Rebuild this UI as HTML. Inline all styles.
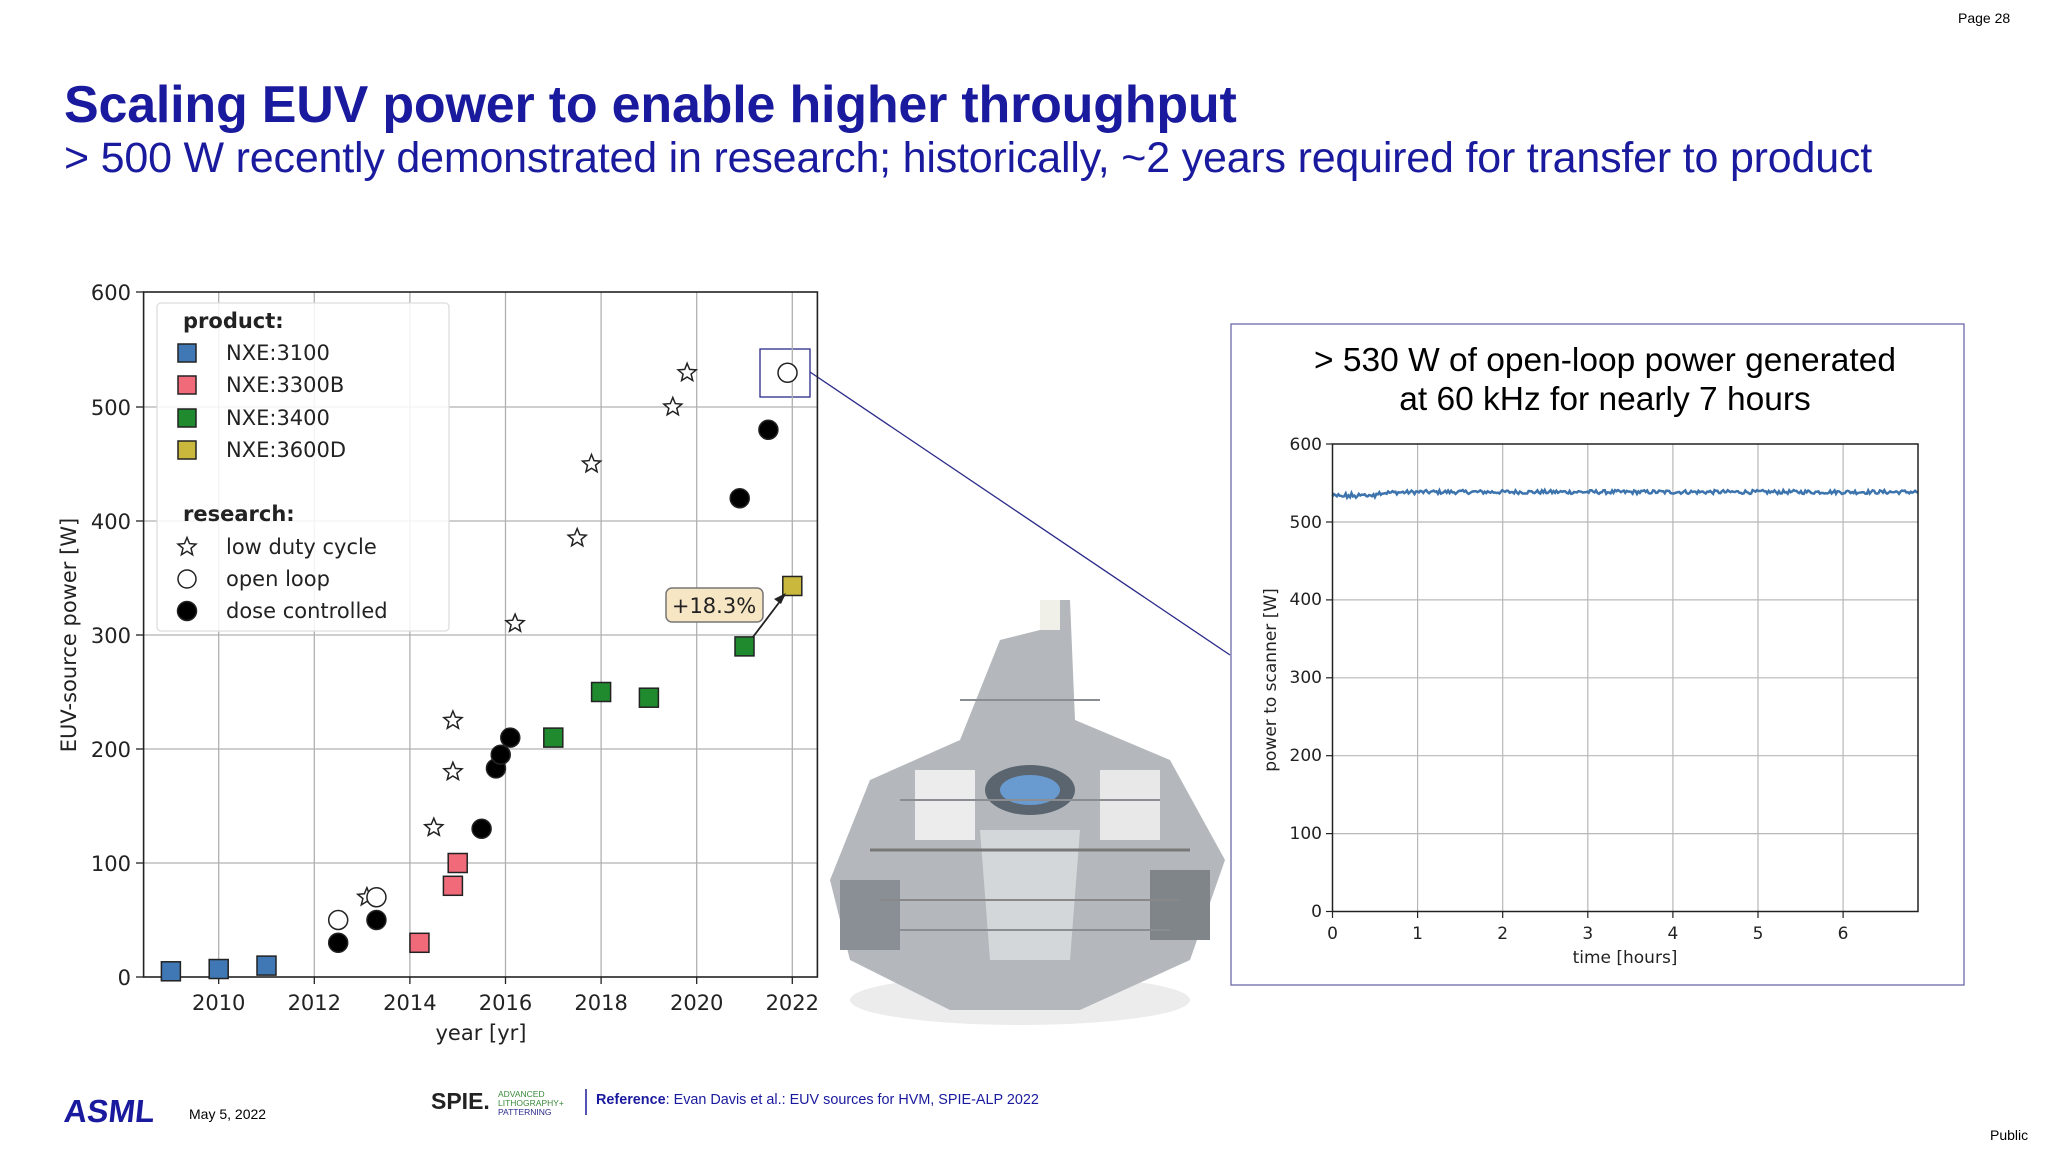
<!DOCTYPE html>
<html><head><meta charset="utf-8"><style>
html,body{margin:0;padding:0;background:#fff;}
body{width:2048px;height:1152px;position:relative;overflow:hidden;font-family:"Liberation Sans",Arial,sans-serif;}
.t{position:absolute;white-space:nowrap;}
</style></head><body>
<div class="t" style="left:1958px;top:10px;font-size:14px;color:#000;">Page 28</div>
<div class="t" style="left:64px;top:75px;font-size:52px;font-weight:bold;color:#1a1a9e;letter-spacing:-0.2px;">Scaling EUV power to enable higher throughput</div>
<div class="t" style="left:64px;top:134px;font-size:43px;color:#1a1a9e;letter-spacing:-0.2px;">&gt; 500 W recently demonstrated in research; historically, ~2 years required for transfer to product</div>

<svg width="2048" height="1152" style="position:absolute;left:0;top:0" font-family="DejaVu Sans, sans-serif">
<!-- machine image approximation -->
<ellipse cx="1020" cy="1000" rx="170" ry="25" fill="#ececec"/>
<path d="M830 880 L870 780 L960 740 L1000 640 L1040 630 L1040 600 L1070 600 L1075 720 L1170 760 L1225 860 L1190 960 L1080 1010 L950 1010 L850 960 Z" fill="#b4b8bc"/>
<rect x="915" y="770" width="60" height="70" fill="#ececec"/>
<rect x="1100" y="770" width="60" height="70" fill="#e8e8e8"/>
<ellipse cx="1030" cy="790" rx="45" ry="25" fill="#5a6570"/>
<ellipse cx="1030" cy="790" rx="30" ry="15" fill="#6a9bd0"/>
<path d="M980 830 L1080 830 L1070 960 L990 960 Z" fill="#d4d7da"/>
<rect x="1040" y="600" width="20" height="30" fill="#f0f0e8"/>
<rect x="840" y="880" width="60" height="70" fill="#8a8f95"/>
<rect x="1150" y="870" width="60" height="70" fill="#80858a"/>
<path d="M870 850 L1190 850" stroke="#777" stroke-width="3"/>
<path d="M880 900 L1180 900" stroke="#888" stroke-width="2"/>
<path d="M900 800 L1160 800 M890 930 L1170 930 M960 700 L1100 700" stroke="#8a8e92" stroke-width="2"/>

<!-- connector -->
<rect x="760" y="349" width="50" height="48" fill="none" stroke="#2a2a8a" stroke-width="1.3"/>
<line x1="810" y1="372" x2="1230" y2="655" stroke="#2a2a8a" stroke-width="1.3"/>

<!-- left chart -->
<g stroke="#b0b0b0" stroke-width="1.3">
<line x1="218.7" y1="292" x2="218.7" y2="977"/><line x1="314.3" y1="292" x2="314.3" y2="977"/>
<line x1="409.9" y1="292" x2="409.9" y2="977"/><line x1="505.5" y1="292" x2="505.5" y2="977"/>
<line x1="601.1" y1="292" x2="601.1" y2="977"/><line x1="696.7" y1="292" x2="696.7" y2="977"/>
<line x1="792.3" y1="292" x2="792.3" y2="977"/>
<line x1="143.6" y1="863" x2="817.4" y2="863"/><line x1="143.6" y1="749" x2="817.4" y2="749"/>
<line x1="143.6" y1="635" x2="817.4" y2="635"/><line x1="143.6" y1="521" x2="817.4" y2="521"/>
<line x1="143.6" y1="407" x2="817.4" y2="407"/>
</g>
<rect x="143.6" y="292" width="673.8" height="685" fill="none" stroke="#222" stroke-width="1.6"/>
<g stroke="#222" stroke-width="1.3">
<line x1="136" y1="977" x2="143.6" y2="977"/><line x1="136" y1="863" x2="143.6" y2="863"/><line x1="136" y1="749" x2="143.6" y2="749"/><line x1="136" y1="635" x2="143.6" y2="635"/><line x1="136" y1="521" x2="143.6" y2="521"/><line x1="136" y1="407" x2="143.6" y2="407"/><line x1="136" y1="292" x2="143.6" y2="292"/>
<line x1="218.7" y1="977" x2="218.7" y2="984"/><line x1="314.3" y1="977" x2="314.3" y2="984"/><line x1="409.9" y1="977" x2="409.9" y2="984"/><line x1="505.5" y1="977" x2="505.5" y2="984"/><line x1="601.1" y1="977" x2="601.1" y2="984"/><line x1="696.7" y1="977" x2="696.7" y2="984"/><line x1="792.3" y1="977" x2="792.3" y2="984"/>
</g>
<g font-size="21" fill="#222" text-anchor="end">
<text x="131" y="985">0</text><text x="131" y="871">100</text><text x="131" y="757">200</text><text x="131" y="643">300</text><text x="131" y="529">400</text><text x="131" y="415">500</text><text x="131" y="300">600</text>
</g>
<g font-size="21" fill="#222" text-anchor="middle">
<text x="218.7" y="1010">2010</text><text x="314.3" y="1010">2012</text><text x="409.9" y="1010">2014</text><text x="505.5" y="1010">2016</text><text x="601.1" y="1010">2018</text><text x="696.7" y="1010">2020</text><text x="792.3" y="1010">2022</text>
<text x="481" y="1040">year [yr]</text>
<text transform="translate(76,635) rotate(-90)">EUV-source power [W]</text>
</g>
<!-- legend -->
<rect x="157" y="303" width="292" height="328" rx="4" fill="#fff" fill-opacity="0.85" stroke="#ddd" stroke-width="1.3"/>
<g font-size="21" fill="#222">
<text x="183" y="328" font-weight="bold">product:</text>
<text x="226" y="360">NXE:3100</text><text x="226" y="392">NXE:3300B</text><text x="226" y="425">NXE:3400</text><text x="226" y="457">NXE:3600D</text>
<text x="183" y="521" font-weight="bold">research:</text>
<text x="226" y="554">low duty cycle</text><text x="226" y="586">open loop</text><text x="226" y="618">dose controlled</text>
</g>
<g stroke="#222" stroke-width="1.5">
<rect x="178" y="344" width="18" height="18" fill="#3f78b4"/>
<rect x="178" y="376" width="18" height="18" fill="#f06a7a"/>
<rect x="178" y="409" width="18" height="18" fill="#1f8a2e"/>
<rect x="178" y="441" width="18" height="18" fill="#c9b83c"/>
<g id="lstar"></g>
<circle cx="187" cy="579" r="9" fill="#fff"/>
<circle cx="187" cy="611" r="9.5" fill="#000"/>
</g>
<g id="pts" stroke="#222" stroke-width="1.5"></g>
<!-- annotation -->
<line x1="753" y1="637" x2="784" y2="596" stroke="#222" stroke-width="1.8"/>
<path d="M786 593 L774 599 L781 604 Z" fill="#222"/>
<rect x="666" y="588" width="97" height="34" rx="6" fill="#f7e6c4" stroke="#777" stroke-width="1.5"/>
<text x="714" y="613" font-size="21" text-anchor="middle" fill="#222">+18.3%</text>

<!-- right panel -->
<rect x="1231" y="324" width="733" height="661" fill="#fff" stroke="#6a6aa8" stroke-width="1.3"/>
<g font-family="Liberation Sans, Arial, sans-serif" font-size="33.5" fill="#000" text-anchor="middle">
<text x="1605" y="371">&gt; 530 W of open-loop power generated</text>
<text x="1605" y="410">at 60 kHz for nearly 7 hours</text>
</g>
<g stroke="#b8b8b8" stroke-width="1.2">
<line x1="1417.6" y1="444" x2="1417.6" y2="911.5"/><line x1="1502.7" y1="444" x2="1502.7" y2="911.5"/><line x1="1587.8" y1="444" x2="1587.8" y2="911.5"/><line x1="1672.9" y1="444" x2="1672.9" y2="911.5"/><line x1="1758" y1="444" x2="1758" y2="911.5"/><line x1="1843.1" y1="444" x2="1843.1" y2="911.5"/>
<line x1="1332.5" y1="833.6" x2="1918" y2="833.6"/><line x1="1332.5" y1="755.7" x2="1918" y2="755.7"/><line x1="1332.5" y1="677.8" x2="1918" y2="677.8"/><line x1="1332.5" y1="599.9" x2="1918" y2="599.9"/><line x1="1332.5" y1="522" x2="1918" y2="522"/>
</g>
<polyline id="pl" fill="none" stroke="#3d74ad" stroke-width="2.5" points=""/>
<rect x="1332.5" y="444" width="585.5" height="467.5" fill="none" stroke="#222" stroke-width="1.5"/>
<g stroke="#222" stroke-width="1.2">
<line x1="1326" y1="911.5" x2="1332.5" y2="911.5"/><line x1="1326" y1="833.6" x2="1332.5" y2="833.6"/><line x1="1326" y1="755.7" x2="1332.5" y2="755.7"/><line x1="1326" y1="677.8" x2="1332.5" y2="677.8"/><line x1="1326" y1="599.9" x2="1332.5" y2="599.9"/><line x1="1326" y1="522" x2="1332.5" y2="522"/><line x1="1326" y1="444" x2="1332.5" y2="444"/>
<line x1="1332.5" y1="911.5" x2="1332.5" y2="918"/><line x1="1417.6" y1="911.5" x2="1417.6" y2="918"/><line x1="1502.7" y1="911.5" x2="1502.7" y2="918"/><line x1="1587.8" y1="911.5" x2="1587.8" y2="918"/><line x1="1672.9" y1="911.5" x2="1672.9" y2="918"/><line x1="1758" y1="911.5" x2="1758" y2="918"/><line x1="1843.1" y1="911.5" x2="1843.1" y2="918"/>
</g>
<g font-size="17" fill="#222" text-anchor="end">
<text x="1322" y="917">0</text><text x="1322" y="839">100</text><text x="1322" y="761">200</text><text x="1322" y="683">300</text><text x="1322" y="605">400</text><text x="1322" y="528">500</text><text x="1322" y="450">600</text>
</g>
<g font-size="17" fill="#222" text-anchor="middle">
<text x="1332.5" y="939">0</text><text x="1417.6" y="939">1</text><text x="1502.7" y="939">2</text><text x="1587.8" y="939">3</text><text x="1672.9" y="939">4</text><text x="1758" y="939">5</text><text x="1843.1" y="939">6</text>
<text x="1625" y="963">time [hours]</text>
<text transform="translate(1276,680) rotate(-90)">power to scanner [W]</text>
</g>

<!-- footer -->
<text x="64" y="1122" font-family="Liberation Sans, Arial, sans-serif" font-size="32" font-weight="bold" fill="#1a1a9e" transform="skewX(-6) translate(117,0)">ASML</text>
<text x="189" y="1119" font-family="Liberation Sans, Arial, sans-serif" font-size="14" fill="#000">May 5, 2022</text>
<text x="431" y="1109" font-family="Liberation Sans, Arial, sans-serif" font-size="23" font-weight="bold" fill="#222">SPIE.</text>
<g font-family="Liberation Sans, Arial, sans-serif" font-size="8.5" fill="#3a8a3a"><text x="498" y="1097">ADVANCED</text><text x="498" y="1106">LITHOGRAPHY+</text><text x="498" y="1115" fill="#2a2a8a">PATTERNING</text></g>
<line x1="586" y1="1089" x2="586" y2="1115" stroke="#1a1a9e" stroke-width="1.5"/>
<text x="596" y="1104" font-family="Liberation Sans, Arial, sans-serif" font-size="14.4" fill="#1a1a9e"><tspan font-weight="bold">Reference</tspan>: Evan Davis et al.: EUV sources for HVM, SPIE-ALP 2022</text>
<text x="1990" y="1140" font-family="Liberation Sans, Arial, sans-serif" font-size="14" fill="#000">Public</text>
</svg>
<script>
(function(){
var X=function(y){return 218.7+(y-2010)*47.8;},Y=function(v){return 977-v*1.14;};
var g=document.getElementById('pts'),h='';
function sq(y,v,c){h+='<rect x="'+(X(y)-9.5)+'" y="'+(Y(v)-9.5)+'" width="19" height="19" fill="'+c+'"/>';}
function ci(y,v,f){h+='<circle cx="'+X(y)+'" cy="'+Y(v)+'" r="9.5" fill="'+f+'"/>';}
function starAt(cx,cy){var p=[];for(var i=0;i<10;i++){var r=i%2?4.2:9.5,a=-Math.PI/2+i*Math.PI/5;p.push((cx+r*Math.cos(a)).toFixed(1)+','+(cy+r*Math.sin(a)).toFixed(1));}return '<polygon points="'+p.join(' ')+'" fill="#fff"/>';}
function st(y,v){h+=starAt(X(y),Y(v));}
sq(2009,5,'#3f78b4');sq(2010,7,'#3f78b4');sq(2011,10,'#3f78b4');
sq(2014.2,30,'#f06a7a');sq(2014.9,80,'#f06a7a');sq(2015,100,'#f06a7a');
sq(2017,210,'#1f8a2e');sq(2018,250,'#1f8a2e');sq(2019,245,'#1f8a2e');sq(2021,290,'#1f8a2e');
sq(2022,343,'#c9b83c');
[[2013.1,70],[2014.5,131],[2014.9,180],[2014.9,225],[2016.2,310],[2017.5,385],[2017.8,450],[2019.5,500],[2019.8,530]].forEach(function(a){st(a[0],a[1]);});
ci(2012.5,50,'#fff');ci(2013.3,70,'#fff');ci(2021.9,530,'#fff');
[[2012.5,30],[2013.3,50],[2015.5,130],[2015.8,183],[2015.9,195],[2016.1,210],[2020.9,420],[2021.5,480]].forEach(function(a){ci(a[0],a[1],'#000');});
g.innerHTML=h;
document.getElementById('lstar').innerHTML=starAt(187,547);
var s=12345;function r(){s=(s*1103515245+12345)%2147483648;return s/2147483648-0.5;}
var pts=[];for(var i=0;i<=400;i++){var t=i/400*6.88;var v=536+2.5*Math.min(t,1)+r()*5+(t<0.5?-3+r()*4:0);pts.push((1332.5+t*85.1).toFixed(1)+','+(911.5-v*0.779).toFixed(1));}
document.getElementById('pl').setAttribute('points',pts.join(' '));
})();
</script>
</body></html>
